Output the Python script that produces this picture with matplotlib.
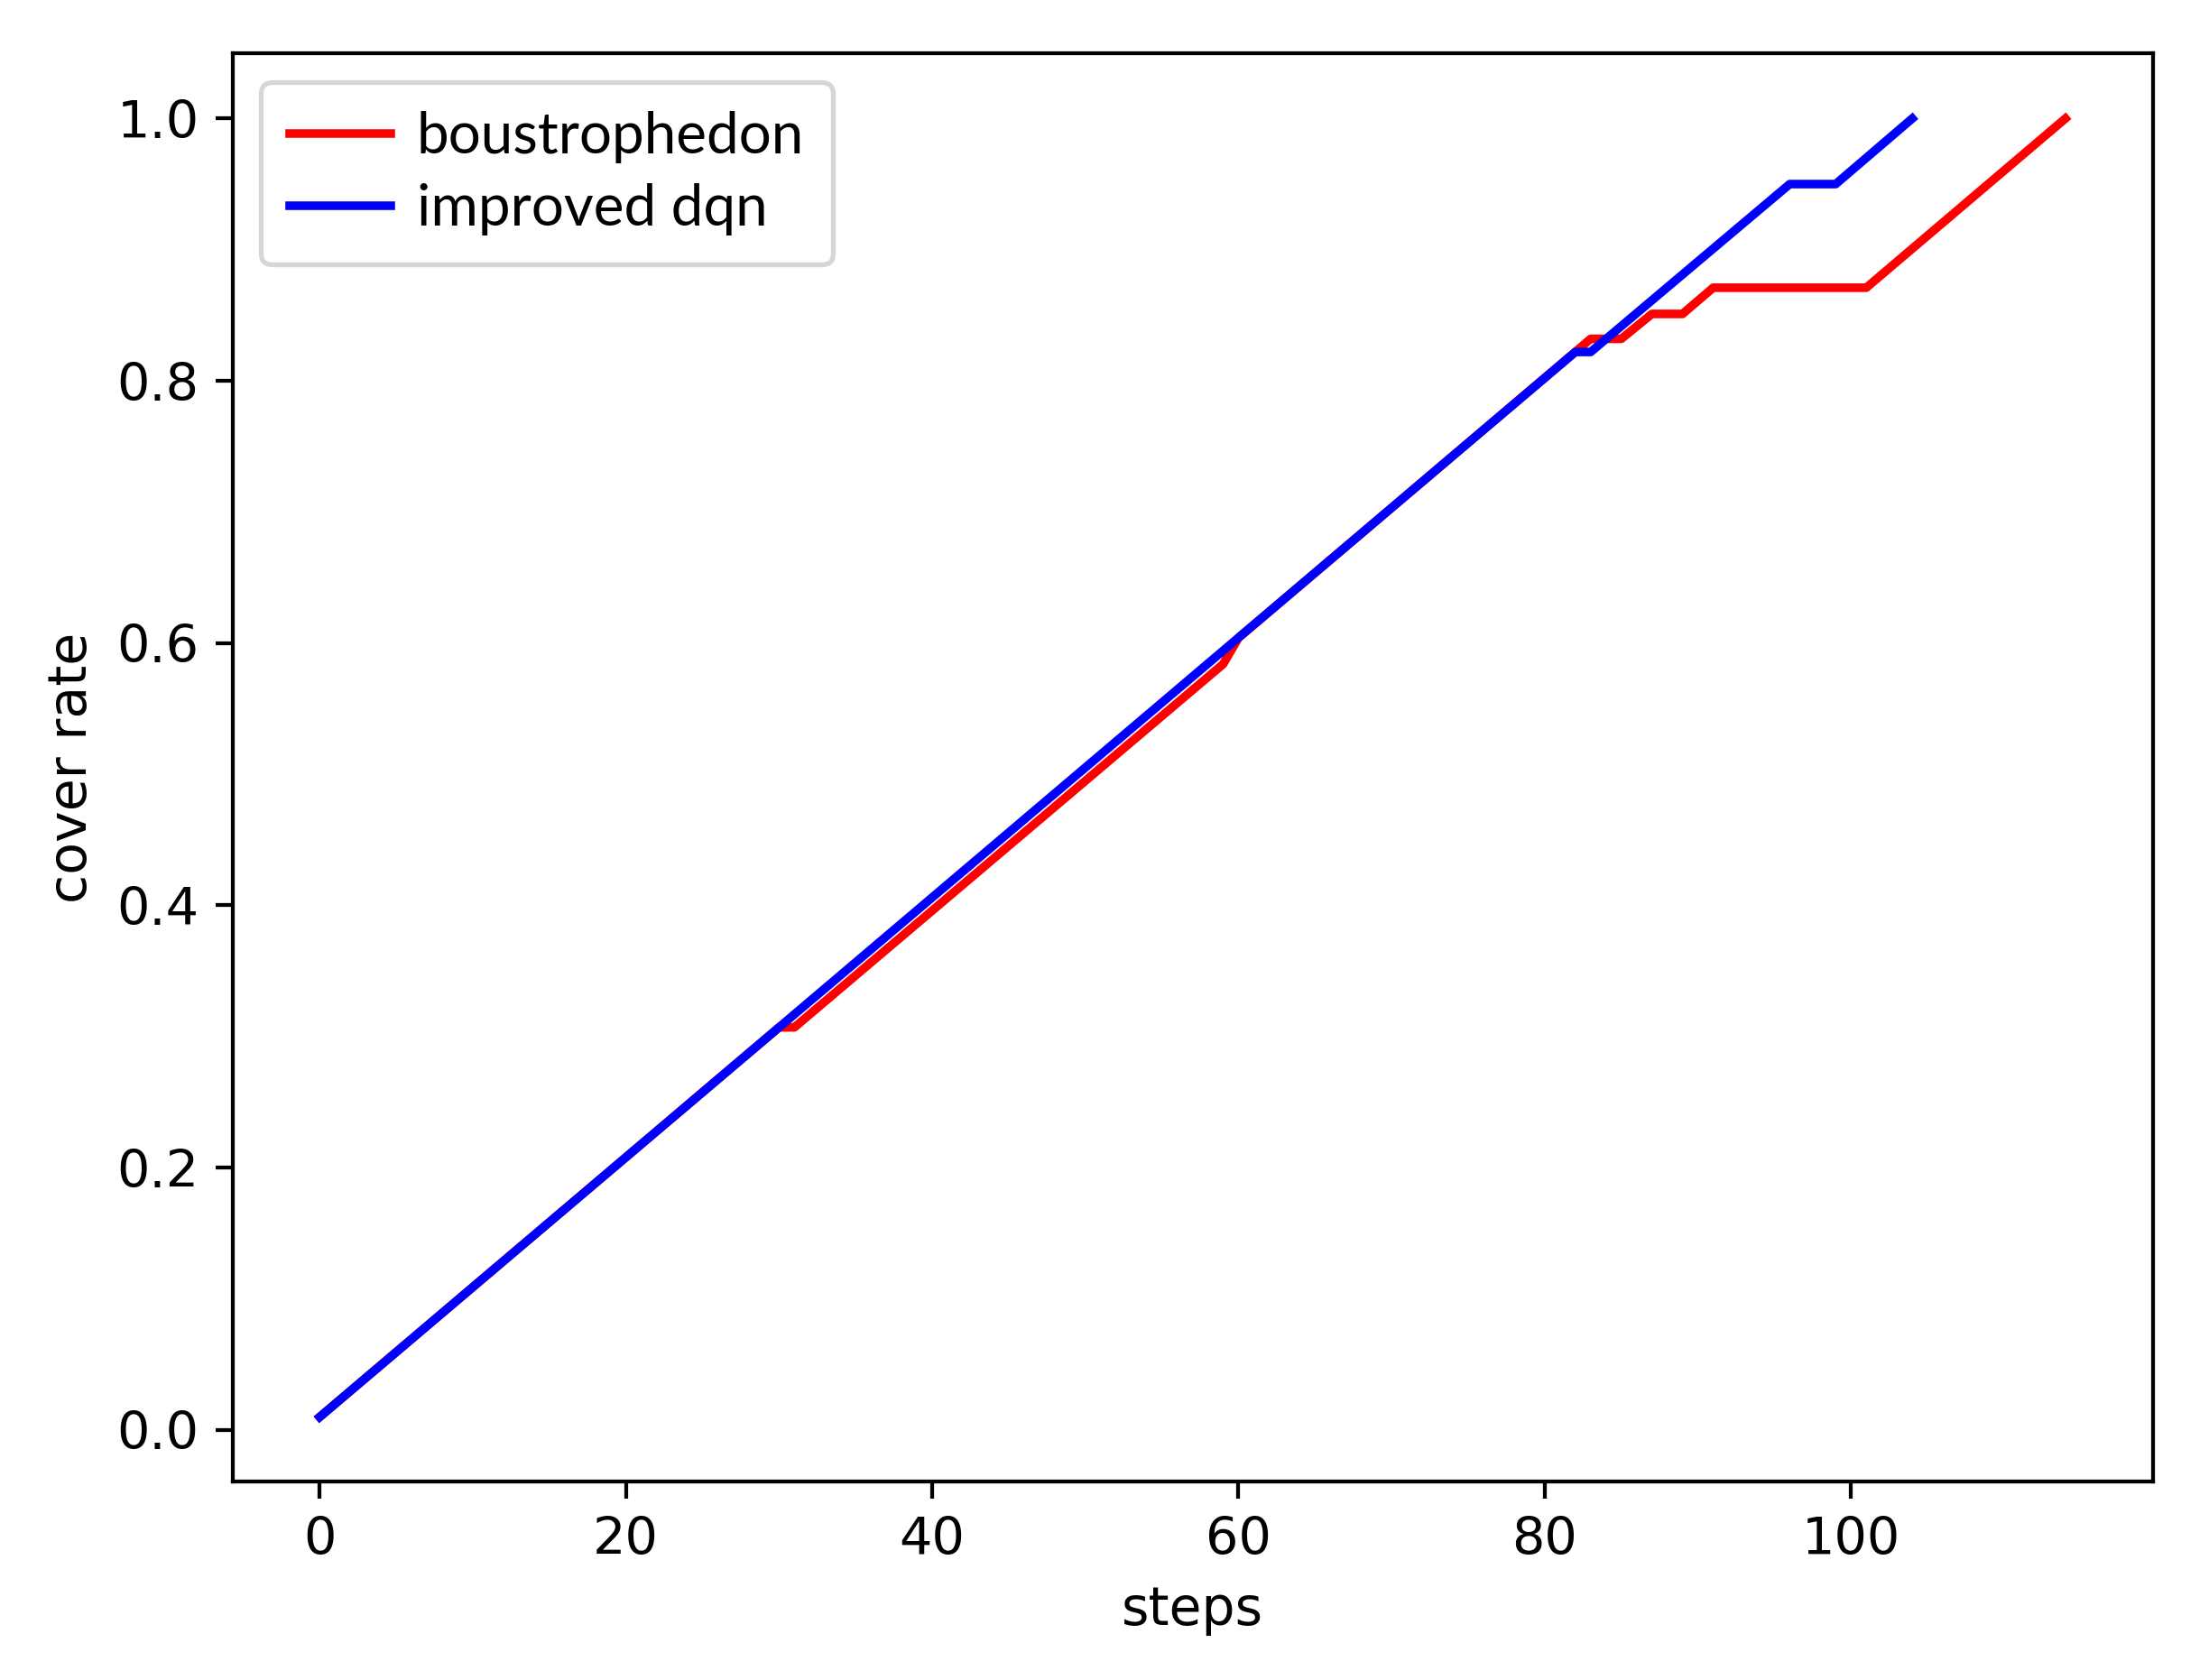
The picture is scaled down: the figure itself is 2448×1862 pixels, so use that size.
import matplotlib
matplotlib.use("Agg")
import matplotlib.pyplot as plt

# breakpoints of the two coverage curves (steps, cover rate)
boustro_steps = [0, 30, 31, 59, 60, 83, 85, 87, 89, 91, 101, 114]
boustro_rate = [0.0099, 0.307, 0.307, 0.584, 0.604, 0.832, 0.832, 0.851, 0.851, 0.871, 0.871, 1.0]

dqn_steps = [0, 82, 83, 96, 99, 104]
dqn_rate = [0.0099, 0.822, 0.822, 0.950, 0.950, 1.0]

fig = plt.figure(figsize=(6.4, 4.868), dpi=382.5)
ax = fig.add_axes([0.1052, 0.1179, 0.8693, 0.8502])

ax.plot(boustro_steps, boustro_rate, color="red", linewidth=1.8, label="boustrophedon")
ax.plot(dqn_steps, dqn_rate, color="blue", linewidth=1.8, label="improved dqn")

ax.tick_params(labelsize=10.8)
ax.set_xlabel("steps", fontsize=11)
ax.set_ylabel("cover rate", fontsize=11)
ax.legend(loc="upper left", prop={"family": "Lato", "size": 12},
          labelspacing=0.35, handlelength=1.75, handletextpad=0.45,
          borderpad=0.5)

fig.savefig("out.png", dpi=382.5)
